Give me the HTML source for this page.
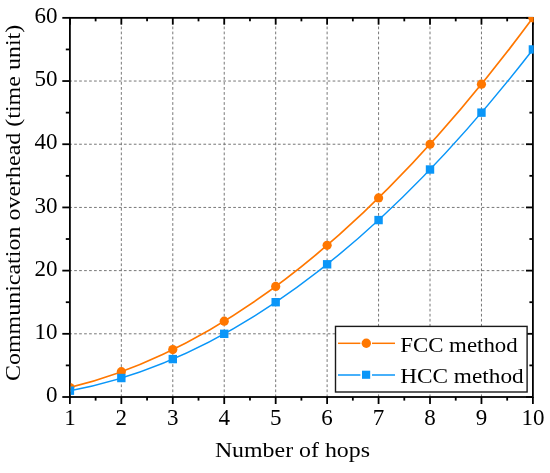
<!DOCTYPE html><html><head><meta charset="utf-8"><style>html,body{margin:0;padding:0;background:#fff;}svg{display:block;}text{font-family:"Liberation Serif",serif;fill:#000;}</style></head><body>
<svg width="550" height="473" viewBox="0 0 550 473">
<defs><clipPath id="pa"><rect x="70.7" y="17.0" width="463.0" height="380.0"/></clipPath></defs>
<g stroke="#777777" stroke-width="1" fill="none"><line x1="121.34" y1="397.00" x2="121.34" y2="17.85" stroke-dasharray="2.74 2.3" stroke-dashoffset="0.19"/><line x1="172.79" y1="397.00" x2="172.79" y2="17.85" stroke-dasharray="2.74 2.3" stroke-dashoffset="0.19"/><line x1="224.23" y1="397.00" x2="224.23" y2="17.85" stroke-dasharray="2.74 2.3" stroke-dashoffset="0.19"/><line x1="275.68" y1="397.00" x2="275.68" y2="17.85" stroke-dasharray="2.74 2.3" stroke-dashoffset="0.19"/><line x1="327.12" y1="397.00" x2="327.12" y2="17.85" stroke-dasharray="2.74 2.3" stroke-dashoffset="0.19"/><line x1="378.57" y1="397.00" x2="378.57" y2="17.85" stroke-dasharray="2.74 2.3" stroke-dashoffset="0.19"/><line x1="430.01" y1="397.00" x2="430.01" y2="17.85" stroke-dasharray="2.74 2.3" stroke-dashoffset="0.19"/><line x1="481.46" y1="397.00" x2="481.46" y2="17.85" stroke-dasharray="2.74 2.3" stroke-dashoffset="0.19"/><line x1="69.90" y1="333.81" x2="532.90" y2="333.81" stroke-dasharray="2.7 2.27" stroke-dashoffset="0.69"/><line x1="69.90" y1="270.62" x2="532.90" y2="270.62" stroke-dasharray="2.7 2.27" stroke-dashoffset="0.69"/><line x1="69.90" y1="207.43" x2="532.90" y2="207.43" stroke-dasharray="2.7 2.27" stroke-dashoffset="0.69"/><line x1="69.90" y1="144.23" x2="532.90" y2="144.23" stroke-dasharray="2.7 2.27" stroke-dashoffset="0.69"/><line x1="69.90" y1="81.04" x2="532.90" y2="81.04" stroke-dasharray="2.7 2.27" stroke-dashoffset="0.69"/></g>
<g stroke="#000" stroke-width="1.8" stroke-linecap="butt"><rect x="69.90" y="17.85" width="463.00" height="379.15" fill="none" stroke-linejoin="miter"/><line x1="69.90" y1="397.00" x2="69.90" y2="404.00"/><line x1="69.90" y1="17.85" x2="69.90" y2="24.65"/><line x1="95.62" y1="397.00" x2="95.62" y2="400.60"/><line x1="95.62" y1="17.85" x2="95.62" y2="21.35"/><line x1="121.34" y1="397.00" x2="121.34" y2="404.00"/><line x1="121.34" y1="17.85" x2="121.34" y2="24.65"/><line x1="147.07" y1="397.00" x2="147.07" y2="400.60"/><line x1="147.07" y1="17.85" x2="147.07" y2="21.35"/><line x1="172.79" y1="397.00" x2="172.79" y2="404.00"/><line x1="172.79" y1="17.85" x2="172.79" y2="24.65"/><line x1="198.51" y1="397.00" x2="198.51" y2="400.60"/><line x1="198.51" y1="17.85" x2="198.51" y2="21.35"/><line x1="224.23" y1="397.00" x2="224.23" y2="404.00"/><line x1="224.23" y1="17.85" x2="224.23" y2="24.65"/><line x1="249.96" y1="397.00" x2="249.96" y2="400.60"/><line x1="249.96" y1="17.85" x2="249.96" y2="21.35"/><line x1="275.68" y1="397.00" x2="275.68" y2="404.00"/><line x1="275.68" y1="17.85" x2="275.68" y2="24.65"/><line x1="301.40" y1="397.00" x2="301.40" y2="400.60"/><line x1="301.40" y1="17.85" x2="301.40" y2="21.35"/><line x1="327.12" y1="397.00" x2="327.12" y2="404.00"/><line x1="327.12" y1="17.85" x2="327.12" y2="24.65"/><line x1="352.84" y1="397.00" x2="352.84" y2="400.60"/><line x1="352.84" y1="17.85" x2="352.84" y2="21.35"/><line x1="378.57" y1="397.00" x2="378.57" y2="404.00"/><line x1="378.57" y1="17.85" x2="378.57" y2="24.65"/><line x1="404.29" y1="397.00" x2="404.29" y2="400.60"/><line x1="404.29" y1="17.85" x2="404.29" y2="21.35"/><line x1="430.01" y1="397.00" x2="430.01" y2="404.00"/><line x1="430.01" y1="17.85" x2="430.01" y2="24.65"/><line x1="455.73" y1="397.00" x2="455.73" y2="400.60"/><line x1="455.73" y1="17.85" x2="455.73" y2="21.35"/><line x1="481.46" y1="397.00" x2="481.46" y2="404.00"/><line x1="481.46" y1="17.85" x2="481.46" y2="24.65"/><line x1="507.18" y1="397.00" x2="507.18" y2="400.60"/><line x1="507.18" y1="17.85" x2="507.18" y2="21.35"/><line x1="532.90" y1="397.00" x2="532.90" y2="404.00"/><line x1="532.90" y1="17.85" x2="532.90" y2="24.65"/><line x1="69.90" y1="397.00" x2="62.30" y2="397.00"/><line x1="532.90" y1="397.00" x2="526.00" y2="397.00"/><line x1="69.90" y1="365.40" x2="65.80" y2="365.40"/><line x1="532.90" y1="365.40" x2="529.40" y2="365.40"/><line x1="69.90" y1="333.81" x2="62.30" y2="333.81"/><line x1="532.90" y1="333.81" x2="526.00" y2="333.81"/><line x1="69.90" y1="302.21" x2="65.80" y2="302.21"/><line x1="532.90" y1="302.21" x2="529.40" y2="302.21"/><line x1="69.90" y1="270.62" x2="62.30" y2="270.62"/><line x1="532.90" y1="270.62" x2="526.00" y2="270.62"/><line x1="69.90" y1="239.02" x2="65.80" y2="239.02"/><line x1="532.90" y1="239.02" x2="529.40" y2="239.02"/><line x1="69.90" y1="207.43" x2="62.30" y2="207.43"/><line x1="532.90" y1="207.43" x2="526.00" y2="207.43"/><line x1="69.90" y1="175.83" x2="65.80" y2="175.83"/><line x1="532.90" y1="175.83" x2="529.40" y2="175.83"/><line x1="69.90" y1="144.23" x2="62.30" y2="144.23"/><line x1="532.90" y1="144.23" x2="526.00" y2="144.23"/><line x1="69.90" y1="112.64" x2="65.80" y2="112.64"/><line x1="532.90" y1="112.64" x2="529.40" y2="112.64"/><line x1="69.90" y1="81.04" x2="62.30" y2="81.04"/><line x1="532.90" y1="81.04" x2="526.00" y2="81.04"/><line x1="69.90" y1="49.45" x2="65.80" y2="49.45"/><line x1="532.90" y1="49.45" x2="529.40" y2="49.45"/><line x1="69.90" y1="17.85" x2="62.30" y2="17.85"/><line x1="532.90" y1="17.85" x2="526.00" y2="17.85"/></g>
<g clip-path="url(#pa)">
<path d="M69.90 387.52 Q301.40 330.65 532.90 17.85" stroke="#ff7700" stroke-width="1.7" fill="none"/>
<circle cx="69.90" cy="387.52" r="4.6" fill="#ff7700"/>
<circle cx="121.34" cy="371.72" r="4.6" fill="#ff7700"/>
<circle cx="172.79" cy="349.61" r="4.6" fill="#ff7700"/>
<circle cx="224.23" cy="321.17" r="4.6" fill="#ff7700"/>
<circle cx="275.68" cy="286.41" r="4.6" fill="#ff7700"/>
<circle cx="327.12" cy="245.34" r="4.6" fill="#ff7700"/>
<circle cx="378.57" cy="197.95" r="4.6" fill="#ff7700"/>
<circle cx="430.01" cy="144.23" r="4.6" fill="#ff7700"/>
<circle cx="481.46" cy="84.20" r="4.6" fill="#ff7700"/>
<circle cx="532.90" cy="17.85" r="4.6" fill="#ff7700"/>
<path d="M69.90 390.68 Q301.40 348.03 532.90 49.45" stroke="#0a96f8" stroke-width="1.5" fill="none"/>
<rect x="65.70" y="386.48" width="8.4" height="8.4" fill="#0a96f8"/>
<rect x="117.14" y="373.84" width="8.4" height="8.4" fill="#0a96f8"/>
<rect x="168.59" y="354.89" width="8.4" height="8.4" fill="#0a96f8"/>
<rect x="220.03" y="329.61" width="8.4" height="8.4" fill="#0a96f8"/>
<rect x="271.48" y="298.01" width="8.4" height="8.4" fill="#0a96f8"/>
<rect x="322.92" y="260.10" width="8.4" height="8.4" fill="#0a96f8"/>
<rect x="374.37" y="215.86" width="8.4" height="8.4" fill="#0a96f8"/>
<rect x="425.81" y="165.31" width="8.4" height="8.4" fill="#0a96f8"/>
<rect x="477.26" y="108.44" width="8.4" height="8.4" fill="#0a96f8"/>
<rect x="528.70" y="45.25" width="8.4" height="8.4" fill="#0a96f8"/>
</g>
<text x="57.4" y="402.10" font-size="23" text-anchor="end">0</text>
<text x="57.4" y="338.91" font-size="23" text-anchor="end">10</text>
<text x="57.4" y="275.72" font-size="23" text-anchor="end">20</text>
<text x="57.4" y="212.53" font-size="23" text-anchor="end">30</text>
<text x="57.4" y="149.33" font-size="23" text-anchor="end">40</text>
<text x="57.4" y="86.14" font-size="23" text-anchor="end">50</text>
<text x="57.4" y="22.95" font-size="23" text-anchor="end">60</text>
<text x="69.90" y="425.1" font-size="23" text-anchor="middle">1</text>
<text x="121.34" y="425.1" font-size="23" text-anchor="middle">2</text>
<text x="172.79" y="425.1" font-size="23" text-anchor="middle">3</text>
<text x="224.23" y="425.1" font-size="23" text-anchor="middle">4</text>
<text x="275.68" y="425.1" font-size="23" text-anchor="middle">5</text>
<text x="327.12" y="425.1" font-size="23" text-anchor="middle">6</text>
<text x="378.57" y="425.1" font-size="23" text-anchor="middle">7</text>
<text x="430.01" y="425.1" font-size="23" text-anchor="middle">8</text>
<text x="481.46" y="425.1" font-size="23" text-anchor="middle">9</text>
<text x="532.90" y="425.1" font-size="23" text-anchor="middle">10</text>
<text x="214.9" y="457.1" font-size="22" textLength="155.1" lengthAdjust="spacingAndGlyphs">Number of hops</text>
<text transform="translate(19.5,381.1) rotate(-90)" font-size="22" textLength="356.3" lengthAdjust="spacingAndGlyphs">Communication overhead (time unit)</text>
<rect x="335.5" y="326.4" width="191.6" height="65.6" fill="#fff" stroke="#1a1a1a" stroke-width="1.4"/>
<g stroke-width="1.5"><line x1="338" y1="343.3" x2="360.4" y2="343.3" stroke="#ff7700"/><line x1="372" y1="343.3" x2="395" y2="343.3" stroke="#ff7700"/>
<line x1="338" y1="375" x2="360.4" y2="375" stroke="#0a96f8"/><line x1="372" y1="375" x2="395" y2="375" stroke="#0a96f8"/></g>
<circle cx="366.3" cy="343.3" r="4.7" fill="#ff7700"/>
<rect x="362" y="370.7" width="8.2" height="8.1" fill="#0a96f8"/>
<text x="400.2" y="351.7" font-size="22" textLength="117.5" lengthAdjust="spacingAndGlyphs">FCC method</text>
<text x="400.2" y="382.5" font-size="22" textLength="123.5" lengthAdjust="spacingAndGlyphs">HCC method</text>
</svg></body></html>
